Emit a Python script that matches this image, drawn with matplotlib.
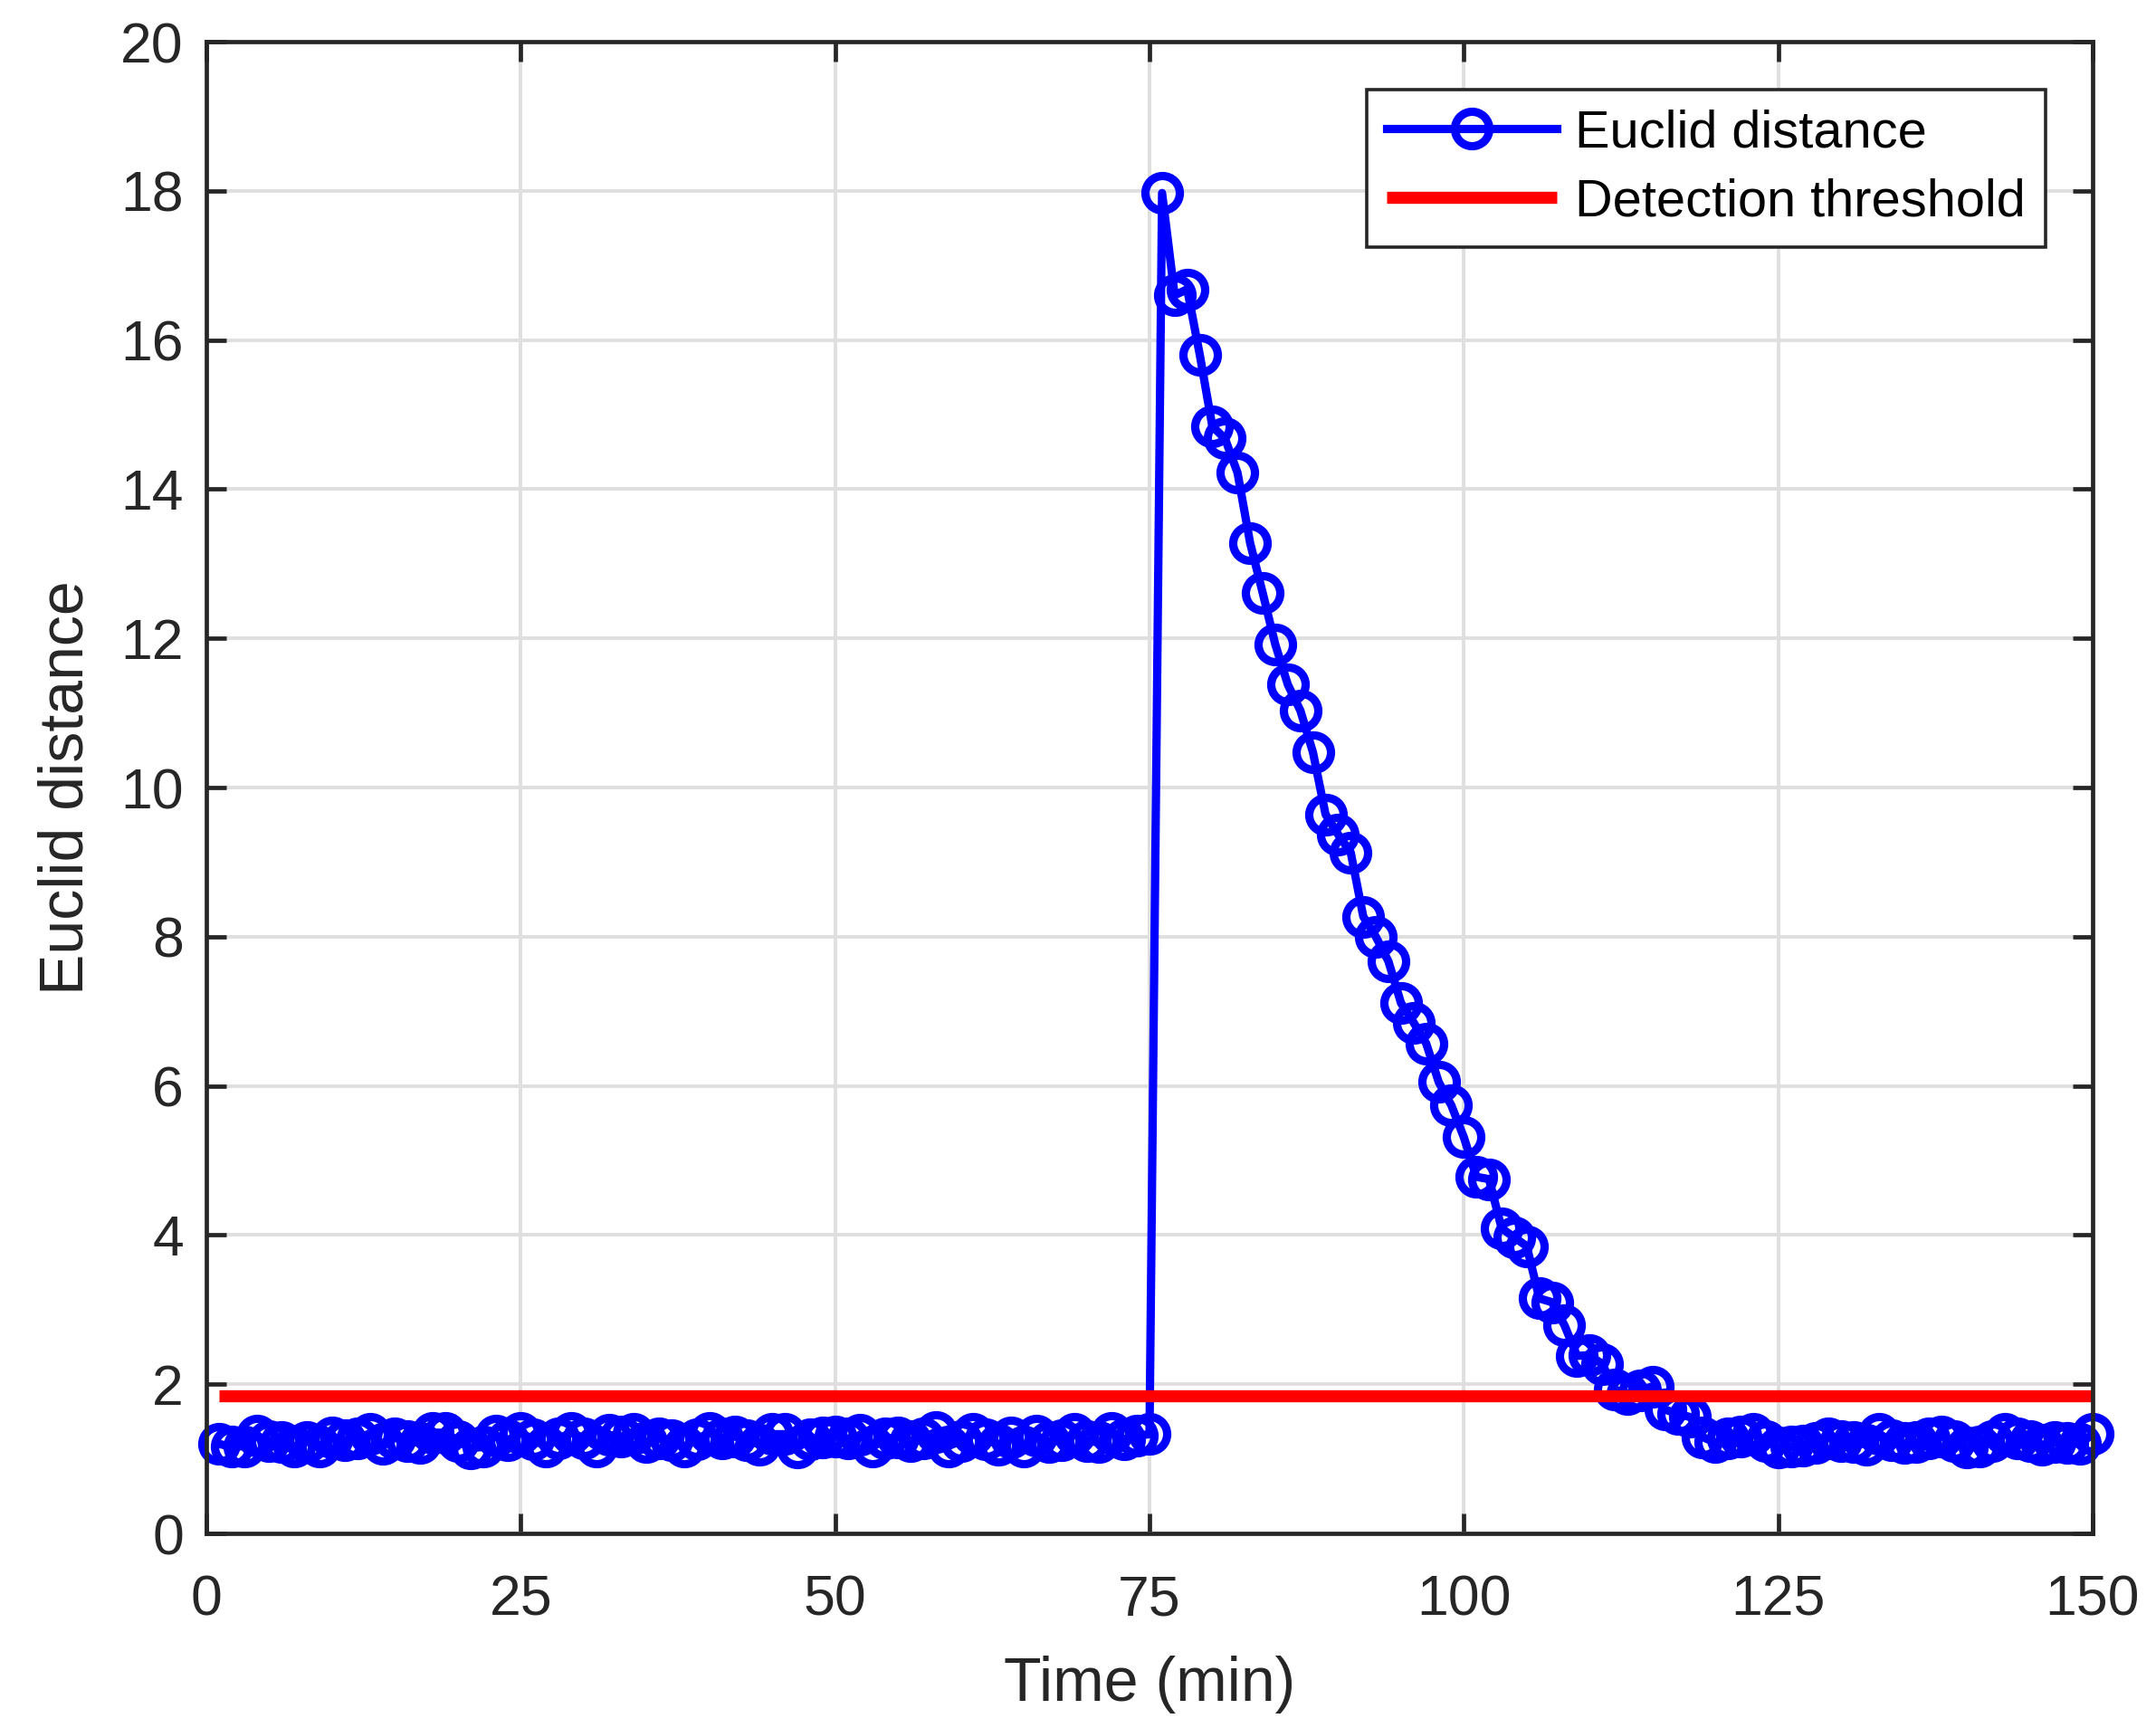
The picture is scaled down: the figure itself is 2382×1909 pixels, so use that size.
import matplotlib
matplotlib.use("Agg")
import matplotlib.pyplot as plt
import numpy as np

# ---- data ----
time_min = list(range(1, 151))
euclid_distance = [
    1.20, 1.16, 1.17, 1.31, 1.24, 1.22, 1.17, 1.23, 1.17, 1.29,
    1.25, 1.27, 1.34, 1.20, 1.28, 1.24, 1.21, 1.35, 1.35, 1.24,
    1.14, 1.16, 1.31, 1.25, 1.35, 1.26, 1.16, 1.27, 1.35, 1.28,
    1.17, 1.32, 1.30, 1.33, 1.22, 1.27, 1.25, 1.16, 1.26, 1.35,
    1.28, 1.30, 1.25, 1.19, 1.33, 1.33, 1.15, 1.26, 1.29, 1.30,
    1.27, 1.32, 1.16, 1.27, 1.29, 1.24, 1.28, 1.36, 1.17, 1.24,
    1.33, 1.26, 1.19, 1.29, 1.16, 1.31, 1.23, 1.25, 1.33, 1.24,
    1.22, 1.35, 1.26, 1.31, 1.33,
    17.97, 16.60, 16.68, 15.80, 14.84, 14.68, 14.22, 13.28, 12.61, 11.92,
    11.38, 11.03, 10.47, 9.64, 9.37, 9.13, 8.27, 8.00, 7.67, 7.11,
    6.85, 6.57, 6.05, 5.74, 5.31, 4.78, 4.75, 4.09, 3.97, 3.85,
    3.15, 3.10, 2.79, 2.38, 2.39, 2.27, 1.93, 1.87, 1.92, 1.97,
    1.66, 1.60, 1.56, 1.29, 1.22, 1.28, 1.30, 1.33, 1.24, 1.15,
    1.16, 1.18, 1.21, 1.28, 1.24, 1.22, 1.19, 1.33, 1.25, 1.21,
    1.22, 1.27, 1.30, 1.24, 1.15, 1.16, 1.24, 1.33, 1.28, 1.24,
    1.19, 1.22, 1.21, 1.20, 1.33,
]
threshold_value = 1.85
threshold_x = [1, 150]
threshold_y = [threshold_value, threshold_value]

x_ticks = [0, 25, 50, 75, 100, 125, 150]
y_ticks = [0, 2, 4, 6, 8, 10, 12, 14, 16, 18, 20]

plt.rcParams['font.family'] = ['Liberation Sans', 'DejaVu Sans']

DARK = '#262626'
fig = plt.figure(figsize=(2382 / 200, 1909 / 200), dpi=200)
ax = fig.add_axes([228 / 2382, 1 - 1694 / 1909, (2312 - 228) / 2382, (1694 - 46) / 1909])

ax.plot(time_min, euclid_distance, color='#0000ff', lw=3.3, marker='o',
        markersize=13.7, markerfacecolor='none', markeredgecolor='#0000ff',
        markeredgewidth=3.3, clip_on=False, zorder=3, label='Euclid distance')
ax.plot(threshold_x, threshold_y, color='#ff0000', lw=4.8, solid_capstyle='butt',
        zorder=4, label='Detection threshold')

ax.set_xlim(0, 150)
ax.set_ylim(0, 20)
ax.set_xticks(x_ticks)
ax.set_yticks(y_ticks)

ax.grid(True, color='#dfdfdf', lw=1.4)
ax.set_axisbelow(True)
for s in ax.spines.values():
    s.set_color(DARK)
    s.set_linewidth(1.7)
    s.set_zorder(5)

ax.tick_params(axis='both', which='both', direction='in', length=8, width=1.7,
               color=DARK, labelcolor=DARK, labelsize=22.5,
               top=True, right=True)
ax.tick_params(axis='x', pad=16)
ax.tick_params(axis='y', pad=9)

ax.set_xlabel('Time (min)', fontsize=24.5, color=DARK, labelpad=11.5)
ax.set_ylabel('Euclid distance', fontsize=24.5, color=DARK, labelpad=10)

leg = ax.legend(loc='upper right', bbox_to_anchor=(0.975, 0.968),
                borderaxespad=0, fontsize=20.8, handlelength=3.25,
                handletextpad=0.35, borderpad=0.38, labelspacing=0.38,
                numpoints=1, fancybox=False, framealpha=1, edgecolor=DARK)
leg.get_frame().set_linewidth(1.3)
leg.set_zorder(10)

fig.savefig('out.png', dpi=200, facecolor='white')
